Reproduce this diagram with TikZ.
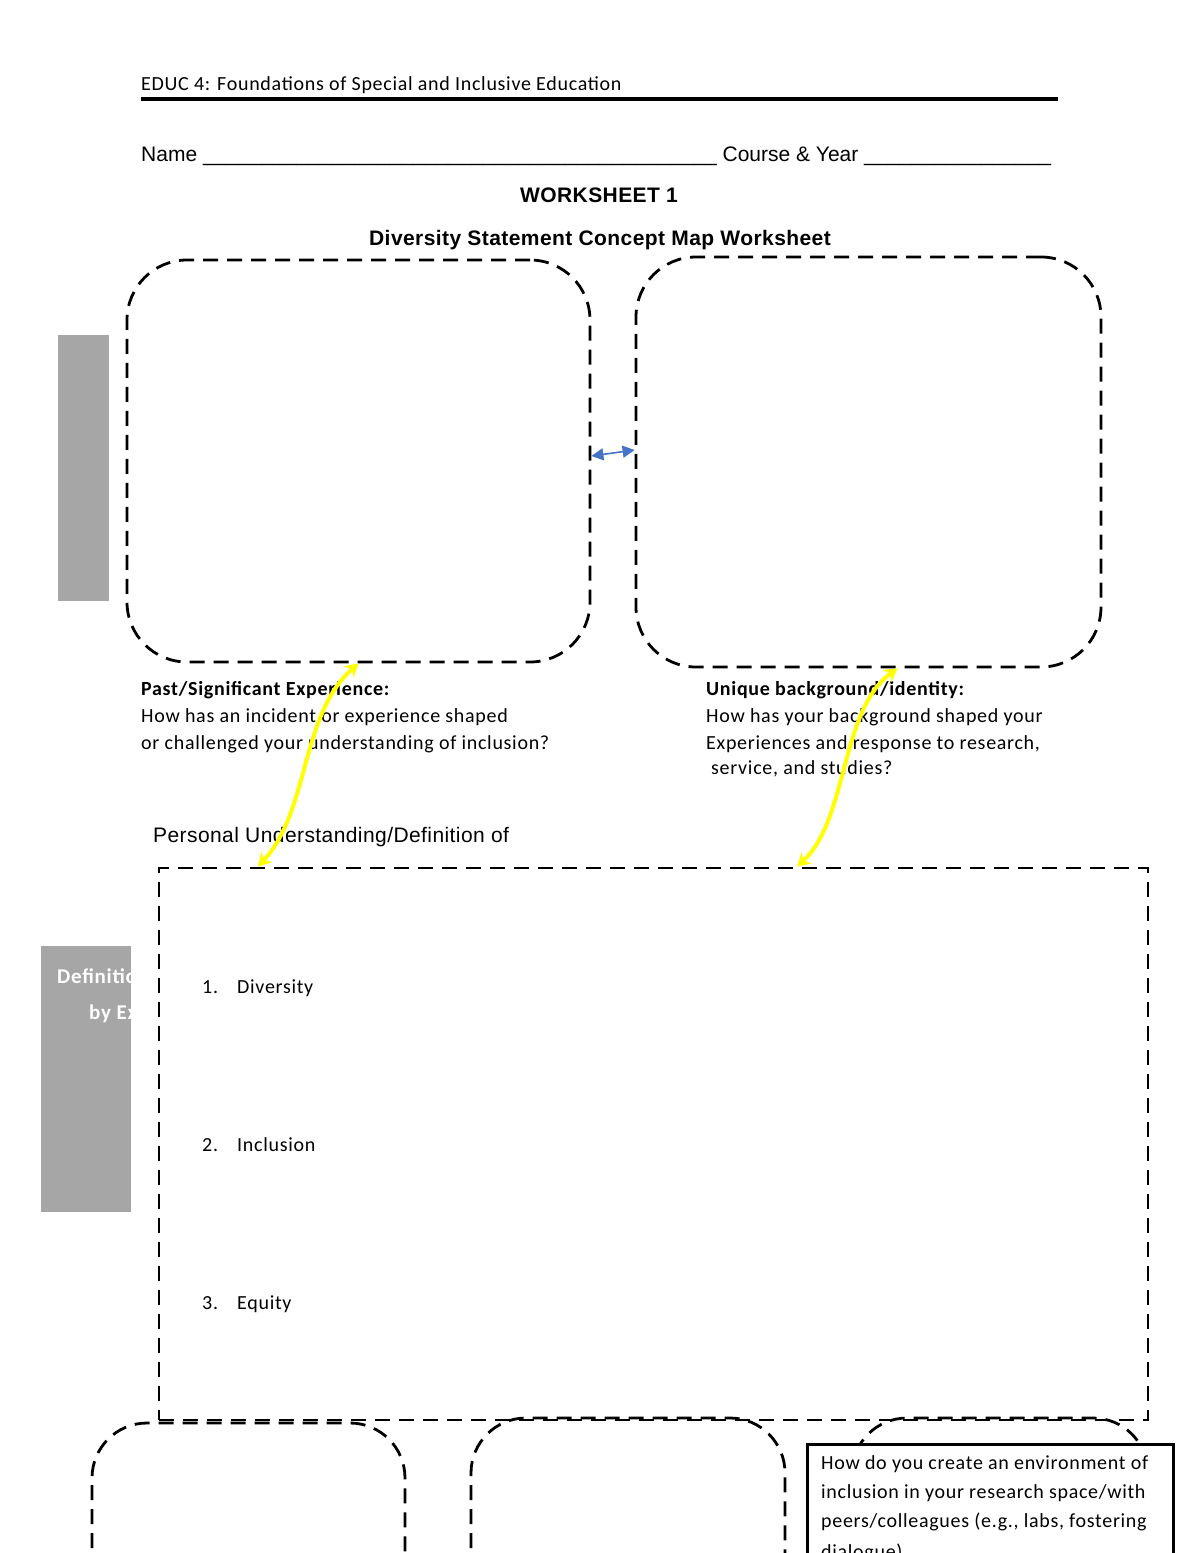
\documentclass[tikz,border=0pt]{standalone}
\usepackage{fontspec}
\setmainfont{Carlito}
\newfontfamily\calw{Carlito}[LetterSpace=3.5]
\newfontfamily\arialf{Liberation Sans}
\newfontfamily\arialw{Liberation Sans}[LetterSpace=2]
\usetikzlibrary{arrows.meta}
\begin{document}
\begin{tikzpicture}[x=1pt,y=-1pt,
  dashline/.style={draw=black, line width=2.8pt, dash pattern=on 15pt off 9pt},
  dashbox/.style={dashline, rounded corners=60pt, inner sep=0pt},
  txt/.style={anchor=base west, inner sep=0pt, font=\calw\fontsize{20}{24}\selectfont},
  atxt/.style={anchor=base west, inner sep=0pt, font=\arialf\fontsize{21}{26}\selectfont},
  btxt/.style={anchor=base, inner sep=0pt, font=\arialw\bfseries\fontsize{21}{26}\selectfont},
  yarrow/.style={draw={rgb,255:red,255;green,255;blue,0}, line width=4pt, {Stealth[length=13pt,width=15pt]}-{Stealth[length=13pt,width=15pt]}},
  barrow/.style={draw={rgb,255:red,68;green,114;blue,196}, line width=1.6pt, {Triangle[length=12pt,width=12pt]}-{Triangle[length=12pt,width=12pt]}},
  graybox/.style={fill={rgb,255:red,166;green,166;blue,166}, draw=none, inner sep=0pt}
]
\useasboundingbox (0,0) rectangle (1200,1553);
\clip (0,0) rectangle (1200,1553);
\fill[white] (0,0) rectangle (1200,1553);

% header
\node[txt] (hdr) at (141,90) {EDUC 4: Foundations of Special and Inclusive Education};
\draw[line width=4pt] (141,99) -- (1058,99);
\node[atxt] (name) at (141,161) {Name \_\_\_\_\_\_\_\_\_\_\_\_\_\_\_\_\_\_\_\_\_\_\_\_\_\_\_\_\_\_\_\_\_\_\_\_\_\_\_\_\_\_\_\_ Course \& Year \_\_\_\_\_\_\_\_\_\_\_\_\_\_\_\_};
\node[btxt] (ws) at (599,202) {WORKSHEET 1};
\node[btxt] (title) at (600,245) {Diversity Statement Concept Map Worksheet};

% gray side boxes
\node[graybox, minimum width=51pt, minimum height=266pt, anchor=north west] (g1) at (58,335) {};
\node[graybox, minimum width=90pt, minimum height=266pt, anchor=north west] (g2) at (41,946) {};
\begin{scope}
\clip (41,946) rectangle (131,1212);
\node[anchor=base west, inner sep=0pt, text=white, font=\calw\bfseries\fontsize{21}{26}\selectfont] (g2a) at (57,983) {Definitions};
\node[anchor=base west, inner sep=0pt, text=white, font=\calw\bfseries\fontsize{21}{26}\selectfont] (g2b) at (89,1019) {by Experts};
\end{scope}

% top boxes
\node[dashbox, minimum width=463pt, minimum height=402pt] (boxA) at (358.5,461) {};
\node[dashbox, minimum width=465pt, minimum height=410pt] (boxB) at (868.5,462) {};
\draw[barrow] ([yshift=5pt]boxA.east) -- ([yshift=12pt]boxB.west);

% texts under boxes
\node[txt] (pa) at (141,695) {\textbf{Past/Significant Experience:}};
\node[txt] (pb) at (141,722) {How has an incident or experience shaped};
\node[txt] (pc) at (141,749) {or challenged your understanding of inclusion?};
\node[txt] (ua) at (706,695) {\textbf{Unique background/identity:}};
\node[txt] (ub) at (706,722) {How has your background shaped your};
\node[txt] (uc) at (706,749) {Experiences and response to research,};
\node[txt] (ud) at (711,774) {service, and studies?};

\node[atxt, font=\arialw\fontsize{21}{26}\selectfont] (pud) at (153,842) {Personal Understanding/Definition of};

% big box
\node[dashline, minimum width=989pt, minimum height=552pt, inner sep=0pt] (big) at (653.5,1144) {};

% list
\node[txt] (n1) at (202,993) {1.};
\node[txt] (t1) at (237,993) {Diversity};
\node[txt] (n2) at (202,1151) {2.};
\node[txt] (t2) at (237,1151) {Inclusion};
\node[txt] (n3) at (202,1309) {3.};
\node[txt] (t3) at (237,1309) {Equity};

% yellow arrows
\draw[yarrow] (boxA.south) .. controls (300,715) and (310,810) .. ([xshift=-395.5pt]big.north);
\draw[yarrow] ([xshift=29pt]boxB.south) .. controls (840,710) and (848,820) .. ([xshift=143.5pt]big.north);

% bottom boxes
\draw[dashline, rounded corners=55pt] (92,1620) -- (92,1423) -- (405,1423) -- (405,1620);
\draw[dashline, rounded corners=55pt] (471,1620) -- (471,1418) -- (785,1418) -- (785,1620);
\draw[dashline, rounded corners=55pt] (852,1620) -- (852,1418) -- (1148,1418) -- (1148,1620);

% question box
\node[draw=black, line width=2.5pt, fill=white, minimum width=366pt, minimum height=160pt, anchor=north west, inner sep=0pt] (qbox) at (806,1443) {};
\node[txt] (q1) at (821,1469) {How do you create an environment of};
\node[txt] (q2) at (821,1498) {inclusion in your research space/with};
\node[txt] (q3) at (821,1527) {peers/colleagues (e.g., labs, fostering};
\node[txt] (q4) at (821,1558) {dialogue)};
\end{tikzpicture}
\end{document}
